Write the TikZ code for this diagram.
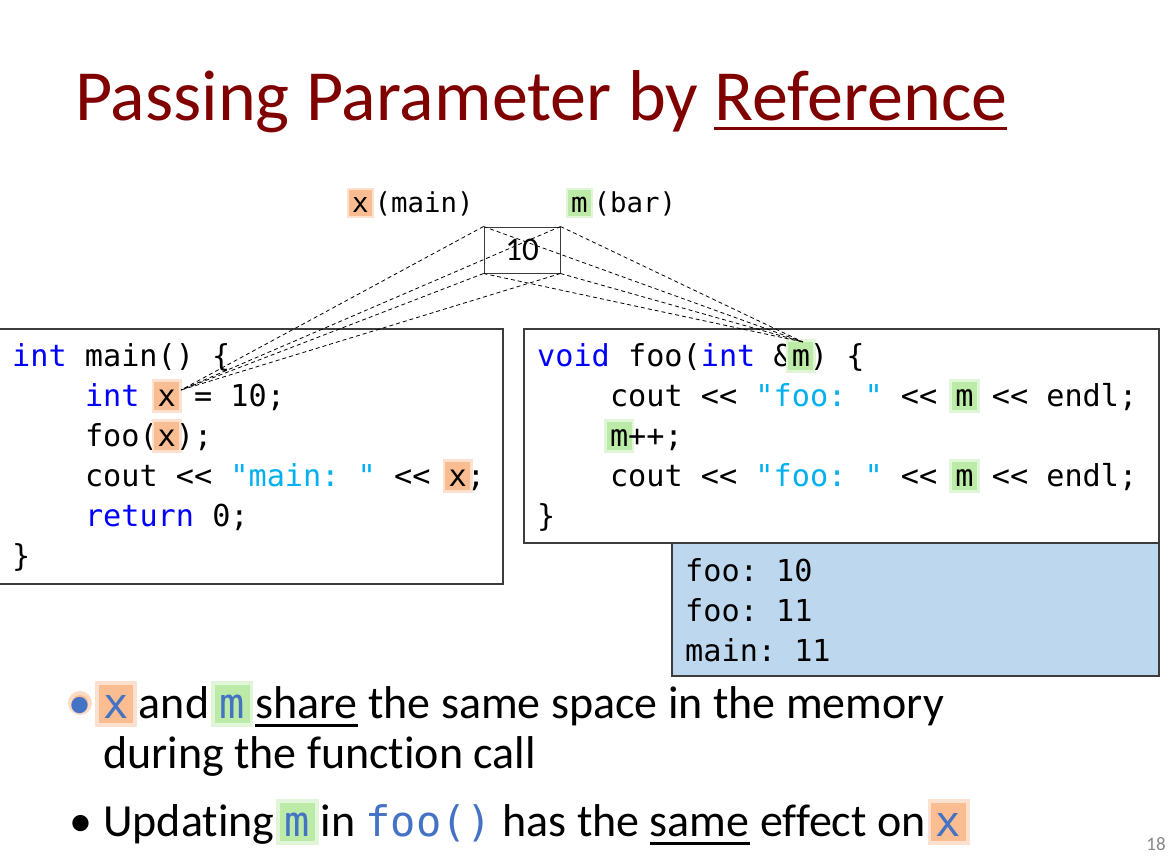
\documentclass[tikz,border=0pt]{standalone}
\usepackage{fontspec}
\setmainfont{Carlito}[Ligatures={TeX,NoCommon}]
\newfontfamily\codefont{DejaVu Sans Mono}
\definecolor{titlered}{RGB}{128,0,0}
\definecolor{kw}{RGB}{0,0,255}
\definecolor{str}{RGB}{0,176,240}
\definecolor{hlo}{RGB}{250,188,145}
\definecolor{hlg}{RGB}{188,235,168}
\definecolor{outfill}{RGB}{189,215,238}
\definecolor{boxline}{RGB}{60,60,60}
\definecolor{accent}{RGB}{68,114,196}
\definecolor{pagegray}{RGB}{137,137,137}
\newcommand\hlmark[2]{\setbox0\hbox{#2}%
\makebox[0pt][l]{\hspace{-0.2em}\textcolor{#1!45}{\rule[-0.22em]{\dimexpr\wd0+0.4em\relax}{1.1em}}}%
\makebox[0pt][l]{\hspace{-0.11em}\textcolor{#1}{\rule[-0.13em]{\dimexpr\wd0+0.22em\relax}{0.92em}}}%
\box0\relax}
\newcommand\myul[3]{\setbox0\hbox{#3}\makebox[0pt][l]{\rule[-#1]{\wd0}{#2}}\box0\relax}
\tikzset{
  code/.style={anchor=base west, inner sep=0pt, font=\codefont\fontsize{30.2}{36}\selectfont\frenchspacing},
  codebox/.style={draw=boxline, line width=1.2pt, inner sep=0pt},
  conn/.style={draw=black, dash pattern=on 4pt off 3pt, line width=0.8pt},
  bullettext/.style={anchor=base west, inner sep=0pt, font=\fontsize{46}{50}\selectfont},
  lbl/.style={anchor=base west, inner sep=0pt, font=\codefont\fontsize{27.4}{32}\selectfont},
}
\newcommand\bcode{\codefont\fontsize{42}{46}\selectfont}
\begin{document}
\begin{tikzpicture}[x=1pt,y=-1pt]
\useasboundingbox[fill=white] (0,0) rectangle (1172,855);

% title
\node[anchor=base west, inner sep=0pt, text=titlered, font=\fontsize{72}{80}\selectfont] (title) at (75,120)
  {Passing Parameter by \myul{9.5pt}{3pt}{Reference}};

% memory cell and labels
\node[lbl] (lblx) at (352,212) {\hlmark{hlo}{x}\hspace{6pt}(main)};
\node[lbl] (lblm) at (571,212) {\hlmark{hlg}{m}\hspace{6pt}(bar)};
\node[draw=boxline, line width=1pt, minimum width=76pt, minimum height=46pt, inner sep=0pt,
      font=\fontsize{33}{36}\selectfont] (mem) at (522,250) {10};

% code boxes
\node[codebox, minimum width=504pt, minimum height=255pt] (mainbox) at (251,456.5) {};
\node[codebox, minimum width=635pt, minimum height=214pt] (foobox) at (841.5,436) {};
\node[codebox, fill=outfill, minimum width=487pt, minimum height=133pt] (outbox) at (915.5,609.5) {};

% main code
\node[code] (m1) at (12,366) {{\color{kw}int} main() \{};
\node[code] (m2) at (84.8,406) {{\color{kw}int} \hlmark{hlo}{x} = 10;};
\node[code] (m3) at (84.8,446) {foo(\hlmark{hlo}{x});};
\node[code] (m4) at (84.8,486) {cout << {\color{str}"main: "} << \hlmark{hlo}{x};};
\node[code] (m5) at (84.8,526) {{\color{kw}return} 0;};
\node[code] (m6) at (12,566) {\}};

% foo code
\node[code] (f1) at (537,366) {{\color{kw}void} foo({\color{kw}int} \&\hlmark{hlg}{m}) \{};
\node[code] (f2) at (609.8,406) {cout << {\color{str}"foo: "} << \hlmark{hlg}{m} << endl;};
\node[code] (f3) at (609.8,446) {\hlmark{hlg}{m}++;};
\node[code] (f4) at (609.8,486) {cout << {\color{str}"foo: "} << \hlmark{hlg}{m} << endl;};
\node[code] (f5) at (537,526) {\}};

% output
\node[code] (o1) at (685,581) {foo: 10};
\node[code] (o2) at (685,621) {foo: 11};
\node[code] (o3) at (685,661) {main: 11};

% connectors
\coordinate (xt) at (181,390);
\coordinate (mt) at (803,342);
\foreach \c in {north west,south west,north east,south east}{
  \draw[conn] (mem.\c) -- (xt);
  \draw[conn] (mem.\c) -- (mt);
}

% bullets
\fill[hlo!55] (80,703) circle (12pt);
\fill[hlo] (80,703) circle (8pt);
\node[anchor=base, inner sep=0pt, font=\fontsize{46}{50}\selectfont, text=accent] (bul1) at (80,718) {•};
\node[bullettext] (t1) at (103,718)
  {{\bcode\hlmark{hlo}{\textcolor{accent}{x}}} and {\bcode\hlmark{hlg}{\textcolor{accent}{m}}} \myul{8.5pt}{2.2pt}{share} the same space in the memory};
\node[bullettext] (t2) at (103,768) {during the function call};
\node[anchor=base, inner sep=0pt, font=\fontsize{46}{50}\selectfont] (bul3) at (81,836) {•};
\node[bullettext] (t3) at (103,836)
  {Updating {\bcode\hlmark{hlg}{\textcolor{accent}{m}}} in {\bcode\textcolor{accent}{foo()}} has the \myul{8.5pt}{2.2pt}{same} effect on {\bcode\hlmark{hlo}{\textcolor{accent}{x}}}};

% page number
\node[inner sep=0pt, text=pagegray, font=\fontsize{19}{20}\selectfont] (pg) at (1156,844) {18};
\end{tikzpicture}
\end{document}
